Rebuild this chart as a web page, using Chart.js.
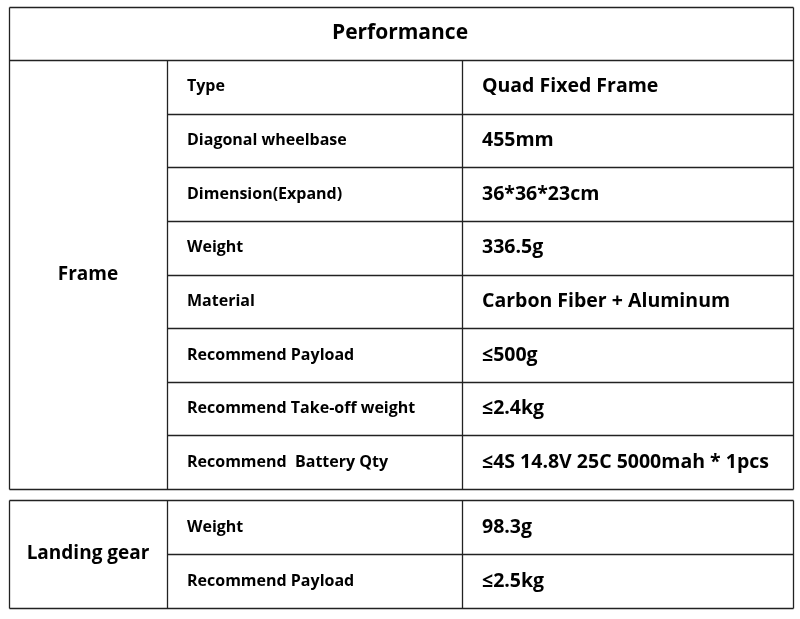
<!DOCTYPE html>
<html><head><meta charset="utf-8">
<script src="https://cdn.jsdelivr.net/npm/chart.js@4"></script>
<style>html,body{margin:0;padding:0;background:#fff}</style>
</head><body>
<canvas id="c" width="800" height="619"></canvas>
<script>
const title = "Performance";
const groups = ["Frame", "Landing gear"];
const frameParams = ["Type","Diagonal wheelbase","Dimension(Expand)","Weight","Material","Recommend Payload","Recommend Take-off weight","Recommend  Battery Qty"];
const frameValues = ["Quad Fixed Frame","455mm","36*36*23cm","336.5g","Carbon Fiber + Aluminum","≤500g","≤2.4kg","≤4S 14.8V 25C 5000mah * 1pcs"];
const gearParams = ["Weight","Recommend Payload"];
const gearValues = ["98.3g","≤2.5kg"];

const F = '"Open Sans", "Liberation Sans", sans-serif';
const tablePlugin = {
  id: 'table',
  afterDraw(chart) {
    const ctx = chart.ctx, X = v => chart.scales.x.getPixelForValue(v), Y = v => chart.scales.y.getPixelForValue(v);
    ctx.save();
    ctx.fillStyle = '#fff'; ctx.fillRect(0,0,chart.width,chart.height);
    ctx.strokeStyle = '#222'; ctx.lineWidth = 1.3;
    const line = (x1,y1,x2,y2)=>{ctx.beginPath();ctx.moveTo(Math.round(X(x1))+0.5,Math.round(Y(y1))+0.5);ctx.lineTo(Math.round(X(x2))+0.5,Math.round(Y(y2))+0.5);ctx.stroke();};
    const L=9,R=793,c1=167,c2=462;
    const top=7, hb=60, rh=(489-60)/frameParams.length, bot1=489;
    line(L,top,R,top); line(L,hb,R,hb); line(L,bot1,R,bot1);
    line(L,top,L,bot1); line(R,top,R,bot1); line(c1,hb,c1,bot1); line(c2,hb,c2,bot1);
    for (let i=1;i<frameParams.length;i++) line(c1,hb+rh*i,R,hb+rh*i);
    ctx.fillStyle='#000'; ctx.textBaseline='middle';
    ctx.font='bold 21px '+F; ctx.textAlign='center';
    ctx.fillText(title, X(400), Y((top+hb)/2));
    ctx.font='bold 19px '+F; ctx.fillText(groups[0], X((L+c1)/2), Y((hb+bot1)/2));
    ctx.textAlign='left';
    frameParams.forEach((p,i)=>{
      const yc=hb+rh*(i+0.5);
      ctx.font='bold 16px '+F; ctx.fillText(p, X(187), Y(yc));
      ctx.font='bold 19.5px '+F; ctx.fillText(frameValues[i], X(482), Y(yc));
    });
    const t2=500,b2=608,rh2=(b2-t2)/gearParams.length;
    line(L,t2,R,t2); line(L,b2,R,b2); line(L,t2,L,b2); line(R,t2,R,b2); line(c1,t2,c1,b2); line(c2,t2,c2,b2);
    for (let i=1;i<gearParams.length;i++) line(c1,t2+rh2*i,R,t2+rh2*i);
    ctx.textAlign='center'; ctx.font='bold 19px '+F; ctx.fillText(groups[1], X((L+c1)/2), Y((t2+b2)/2));
    ctx.textAlign='left';
    gearParams.forEach((p,i)=>{
      const yc=t2+rh2*(i+0.5);
      ctx.font='bold 16px '+F; ctx.fillText(p, X(187), Y(yc));
      ctx.font='bold 19.5px '+F; ctx.fillText(gearValues[i], X(482), Y(yc));
    });
    ctx.restore();
  }
};
new Chart(document.getElementById('c'), {
  type:'scatter',
  data:{datasets:[{data:[]}]},
  options:{responsive:false,animation:false,devicePixelRatio:1,
    layout:{padding:0},
    plugins:{legend:{display:false},tooltip:{enabled:false}},
    scales:{x:{type:'linear',min:0,max:800,display:false},y:{type:'linear',min:0,max:619,reverse:true,display:false}}},
  plugins:[tablePlugin]
});
</script>
</body></html>
